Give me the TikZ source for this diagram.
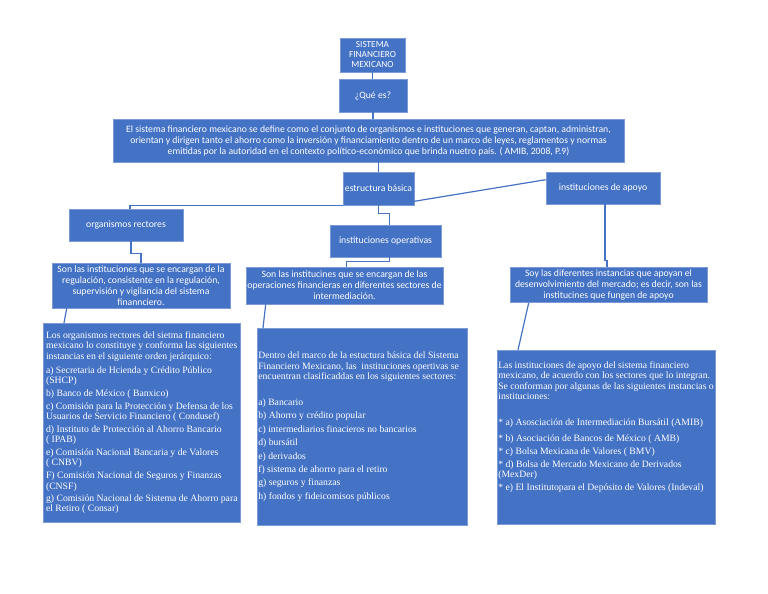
\documentclass[tikz,border=0pt]{standalone}
\usepackage{fontspec}
\setmainfont{Liberation Serif}
\newfontfamily\calibri{Carlito}
\usepackage{tikz}
\usetikzlibrary{calc,positioning}
\definecolor{azul}{HTML}{4472C4}
\definecolor{bordeazul}{HTML}{7C9BD6}

\begin{document}
\begin{tikzpicture}[x=1pt,y=-1pt,
  caja/.style={draw=bordeazul,line width=0.6pt,fill=azul,text=white,inner sep=1pt,align=center,
    font=\calibri\fontsize{9.7}{11}\selectfont},
  lista/.style={draw=bordeazul,line width=0.6pt,fill=azul,text=white,inner xsep=1pt,inner ysep=0pt,
    align=left,anchor=north west,font=\fontsize{9.7}{10.4}\selectfont},
  enlace/.style={draw=azul,line width=1.2pt}]
\useasboundingbox (0,0) rectangle (768,594);
% cabecera
\node[caja,minimum width=65,minimum height=34,font=\calibri\fontsize{9.3}{10}\selectfont] (titulo) at (372.5,55) {SISTEMA\\FINANCIERO\\MEXICANO};
\node[caja,minimum width=68,minimum height=33] (quees) at (373,95.5) {¿Qué es?};
\node[caja,minimum width=511,minimum height=43] (definicion) at (368.5,140.5)
  {El sistema financiero mexicano se define como el conjunto de organismos e instituciones que generan, captan, administran,\\
   orientan y dirigen tanto el ahorro como la inversión y financiamiento dentro de un marco de leyes, reglamentos y normas\\
   emitidas por la autoridad en el contexto político-económico que brinda nuetro país. ( AMIB, 2008, P.9)};
% segundo nivel
\node[caja,minimum width=71,minimum height=33] (estructura) at (378.5,188.5) {estructura básica};
\node[caja,minimum width=114,minimum height=32] (apoyo) at (603,188) {instituciones de apoyo};
\node[caja,minimum width=114,minimum height=32] (rectores) at (126,225) {organismos rectores};
\node[caja,minimum width=111,minimum height=32] (operativas) at (385.5,241) {instituciones operativas};
% descripciones
\node[caja,minimum width=178,minimum height=45] (textorectores) at (141,285.5)
  {Son las instituciones que se encargan de la\\regulación, consistente en la regulación,\\supervisión y vigilancia del sistema\\finannciero.};
\node[caja,minimum width=197,minimum height=37] (textooperativas) at (344.5,285.5)
  {Son las institucines que se encargan de las\\operaciones financieras en diferentes sectores de\\intermediación.};
\node[caja,minimum width=197,minimum height=35] (textoapoyo) at (608.5,285)
  {Soy las diferentes instancias que apoyan el\\desenvolvimiento del mercado; es decir, son las\\institucines que fungen de apoyo};
% listas
\node[lista,minimum width=197,minimum height=199] (listarectores) at (43,323)
  {Los organismos rectores del sietma financiero\\
   mexicano lo constituye y conforma las siguientes\\
   instancias en el siguiente orden jerárquico:\\[3.5pt]
   a) Secretaria de Hcienda y Crédito Público\\
   (SHCP)\\[2.5pt]
   b) Banco de México ( Banxico)\\[2.5pt]
   c) Comisión para la Protección y Defensa de los\\
   Usuarios de Servicio Financiero ( Condusef)\\[2pt]
   d) Instituto de Protección al Ahorro Bancario\\
   ( IPAB)\\[2.5pt]
   e) Comisión Nacional Bancaria y de Valores\\
   ( CNBV)\\[2.5pt]
   F) Comisión Nacional de Seguros y Finanzas\\
   (CNSF)\\[2pt]
   g) Comisión Nacional de Sistema de Ahorro para\\
   el Retiro ( Consar)};
\node[lista,minimum width=210,minimum height=197,text width=208,align=flush left] (listaoperativas) at (257,328)
  {Dentro del marco de la estuctura básica del Sistema\\
   Financiero Mexicano, las\ \ instituciones opertivas se\\
   encuentran clasificaddas en los siguientes sectores:\\[15.5pt]
   a) Bancario\\[3pt]
   b) Ahorro y crédito popular\\[3pt]
   c) intermediarios finacieros no bancarios\\[3pt]
   d) bursátil\\[3pt]
   e) derivados\\[3pt]
   f) sistema de ahorro para el retiro\\[3pt]
   g) seguros y finanzas\\[3pt]
   h) fondos y fideicomisos públicos};
\node[lista,minimum width=217,minimum height=174] (listaapoyo) at (497,350)
  {Las instituciones de apoyo del sistema financiero\\
   mexicano, de acuerdo con los sectores que lo integran.\\
   Se conforman por algunas de las siguientes instancias o\\
   instituciones:\\[15.5pt]
   * a) Asosciación de Intermediación Bursátil (AMIB)\\[5.5pt]
   * b) Asociación de Bancos de México ( AMB)\\[2.5pt]
   * c) Bolsa Mexicana de Valores ( BMV)\\[2.5pt]
   * d) Bolsa de Mercado Mexicano de Derivados\\
   (MexDer)\\[2.5pt]
   * e) El Institutopara el Depósito de Valores (Indeval)\\[12pt]
   \mbox{}};
% conectores
\draw[enlace] (titulo.south) -- (titulo.south |- quees.north);
\draw[enlace] (quees.south) -- (quees.south |- definicion.north);
\draw[enlace] (estructura.north) -- (estructura.north |- definicion.south);
\draw[enlace] (estructura.south west) -| ($(rectores.north)+(4,0)$);
\draw[enlace] ($(estructura.south east)+(0,-4)$) -- ($(apoyo.north west)+(0,8)$);
\draw[enlace] (estructura.south) -- ++(0,8) -| ($(operativas.north)+(4,0)$);
\draw[enlace] ($(rectores.south)+(5,0)$) -- ++(0,12) -| (textorectores.north);
\draw[enlace] ($(operativas.south)+(4,0)$) -- ++(0,4) -| ($(textooperativas.north)+(2,0)$);
\draw[enlace] ($(apoyo.south)+(2,0)$) -- ++(0,56) -| ($(textoapoyo.north)+(-1.5,0)$);
\draw[enlace] ($(textorectores.south west)+(15,0)$) -- ($(listarectores.north west)+(21,0)$);
\draw[enlace] ($(textooperativas.south west)+(20,0)$) -- ($(listaoperativas.north west)+(6,0)$);
\draw[enlace] ($(textoapoyo.south west)+(19,0)$) -- ($(listaapoyo.north west)+(21,0)$);
\end{tikzpicture}
\end{document}
